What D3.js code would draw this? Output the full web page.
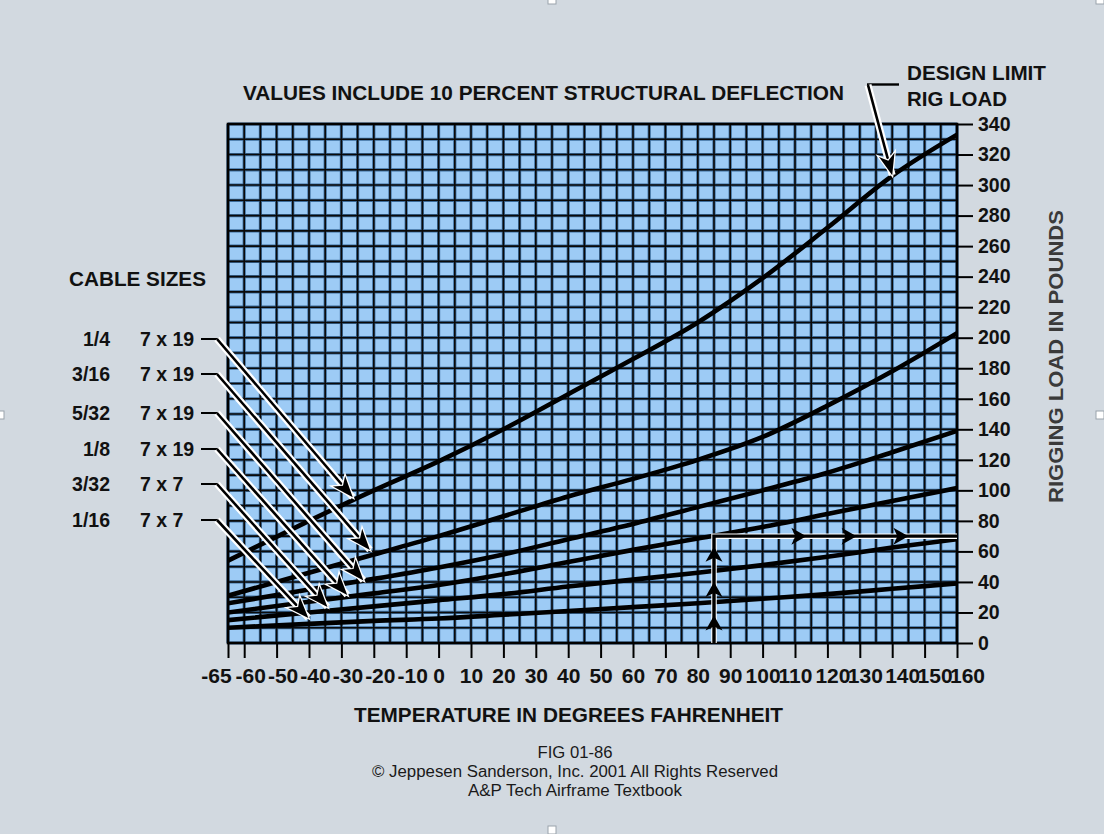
<!DOCTYPE html>
<html>
<head>
<meta charset="utf-8">
<script src="https://cdn.jsdelivr.net/npm/d3@7"></script>
<style>
	body { margin: 0; background: #d2d9e0; }
	svg { display: block; font-family: "Liberation Sans", Arial, Helvetica, sans-serif; }
</style>
</head>
<body>
<svg id="chart" width="1104" height="834"></svg>
<script>
const temps = [-65, -40, -20, 0, 20, 40, 60, 80, 100, 120, 140, 160];
// rigging load (lbs) for each cable size
const load1_4 = [54, 80, 100, 119, 140, 163, 186, 210, 239, 272, 306, 333];
const load3_16 = [31, 46, 58, 70, 83, 96, 107.5, 120, 135, 155.5, 178, 203];
const load5_32 = [26, 35, 42, 49.5, 58, 68, 78, 89, 100, 111.5, 125, 139];
const load1_8 = [20, 27, 32.5, 38, 45, 53, 61, 68.5, 76, 84.5, 93, 101.5];
const load3_32 = [15, 20, 24, 28, 32, 37, 41.5, 46, 51, 56.5, 62.5, 68];
const load1_16 = [10, 12.5, 14.5, 16, 18.5, 21, 23.5, 26, 29, 32, 35.5, 39];
const seriesLoads = [load1_4, load3_16, load5_32, load1_8, load3_32, load1_16];

const cableSizes = ["1/4", "3/16", "5/32", "1/8", "3/32", "1/16"];
const cableTypes = ["7 x 19", "7 x 19", "7 x 19", "7 x 19", "7 x 7", "7 x 7"];
// where each label arrow lands [temp, load]
const leaderTips = [[-26.5, 95.5], [-21.2, 61], [-23.2, 41], [-28.2, 31.5], [-34.3, 23.6], [-40.2, 16.4]];
const designTip = [140, 306.5];

// worked example: 85 F -> 70 lbs
const exampleTemp = 85;
const exampleLoad = 70;
const upArrowLoads = [18, 40, 63];
const rightArrowTemps = [113.5, 129, 145];

const xTicks = [-65, -60, -50, -40, -30, -20, -10, 0, 10, 20, 30, 40, 50, 60, 70, 80, 90, 100, 110, 120, 130, 140, 150, 160];
const yTicks = [0, 20, 40, 60, 80, 100, 120, 140, 160, 180, 200, 220, 240, 260, 280, 300, 320, 340];

const W = 1104, H = 834;
const plot = { left: 228, right: 957, top: 124, bottom: 643 };
const rowY = [339, 374, 413, 449, 484, 520];

const x = d3.scaleLinear().domain([-65, 160]).range([plot.left, plot.right]);
const y = d3.scaleLinear().domain([0, 340]).range([plot.bottom, plot.top]);

const svg = d3.select("#chart");

function fit(sel, w) {
	return sel.attr("textLength", w).attr("lengthAdjust", "spacingAndGlyphs");
}

function head(len, half, notch) {
	return `M0,0L${-len},${-half}L${-len + notch},0L${-len},${half}Z`;
}

svg.append("rect").attr("width", W).attr("height", H).attr("fill", "#d2d9e0");

// window handles from the screenshot
const handles = [[552, 0], [1100, 0], [0, 415], [1100, 415], [552, 830]];
svg.append("g").selectAll("rect").data(handles).join("rect")
	.attr("x", d => d[0] - 4).attr("y", d => d[1] - 4)
	.attr("width", 8).attr("height", 8)
	.attr("fill", "#fff").attr("stroke", "#9aa3ab").attr("stroke-width", 1);

svg.append("defs").append("clipPath").attr("id", "plot-clip")
	.append("rect")
	.attr("x", plot.left).attr("y", plot.top)
	.attr("width", plot.right - plot.left).attr("height", plot.bottom - plot.top);

svg.append("rect")
	.attr("x", plot.left).attr("y", plot.top)
	.attr("width", plot.right - plot.left).attr("height", plot.bottom - plot.top)
	.attr("fill", "#9dcbf5");

// grid: every 5 deg and every 10 lbs
const gridX = d3.range(-65, 161, 5);
const gridY = d3.range(0, 341, 10);
const grid = svg.append("g");
[["#3d6c9b", 3.2], ["#0a0a0a", 1.6]].forEach(([c, w]) => {
	grid.append("g").selectAll("line").data(gridX).join("line")
		.attr("x1", d => x(d)).attr("x2", d => x(d))
		.attr("y1", plot.top).attr("y2", plot.bottom)
		.attr("stroke", c).attr("stroke-width", w);
	grid.append("g").selectAll("line").data(gridY).join("line")
		.attr("y1", d => y(d)).attr("y2", d => y(d))
		.attr("x1", plot.left).attr("x2", plot.right)
		.attr("stroke", c).attr("stroke-width", w);
});

svg.append("rect")
	.attr("x", plot.left).attr("y", plot.top)
	.attr("width", plot.right - plot.left).attr("height", plot.bottom - plot.top)
	.attr("fill", "none").attr("stroke", "#000").attr("stroke-width", 2.6);

// axes
const yAxis = svg.append("g")
	.attr("transform", `translate(${plot.right},0)`)
	.call(d3.axisRight(y).tickValues(yTicks).tickSize(16).tickPadding(5));
yAxis.select(".domain").remove();
yAxis.selectAll("line").attr("stroke", "#000").attr("stroke-width", 2);
yAxis.selectAll("text")
	.style("font-size", "19.5px").style("font-weight", "bold").attr("fill", "#111");

const xAxis = svg.append("g")
	.attr("transform", `translate(0,${plot.bottom})`)
	.call(d3.axisBottom(x).tickValues(xTicks).tickFormat(d => `${d}`).tickSize(15).tickPadding(10));
xAxis.select(".domain").remove();
xAxis.selectAll("line").attr("stroke", "#000").attr("stroke-width", 2);
xAxis.selectAll("text")
	.style("font-size", "21px").style("font-weight", "bold").attr("fill", "#111")
	.attr("dx", d => d === -65 ? -12 : d < 0 ? 6 : d >= 140 ? 10 : d >= 120 ? 5 : 0);

// curves
const line = d3.line()
	.x(d => x(d[0]))
	.y(d => y(d[1]))
	.curve(d3.curveMonotoneX);

svg.append("g").attr("clip-path", "url(#plot-clip)")
	.selectAll("path").data(seriesLoads).join("path")
	.attr("d", loads => line(temps.map((t, i) => [t, loads[i]])))
	.attr("fill", "none").attr("stroke", "#000").attr("stroke-width", 4.6);

// example path
const examplePts = [[exampleTemp, 0], [exampleTemp, exampleLoad], [160, exampleLoad]];
const exLine = d3.line().x(d => x(d[0])).y(d => y(d[1]));
const ex = svg.append("g").attr("clip-path", "url(#plot-clip)");
ex.append("path").attr("d", exLine(examplePts))
	.attr("fill", "none").attr("stroke", "#fff").attr("stroke-width", 5.5);
ex.append("path").attr("d", exLine(examplePts))
	.attr("fill", "none").attr("stroke", "#000").attr("stroke-width", 3.4);
ex.selectAll(".up").data(upArrowLoads).join("path")
	.attr("class", "up")
	.attr("transform", d => `translate(${x(exampleTemp)},${y(d)}) rotate(-90)`)
	.attr("d", head(15, 8.5, 4)).attr("fill", "#000");
ex.selectAll(".right").data(rightArrowTemps).join("path")
	.attr("class", "right")
	.attr("transform", d => `translate(${x(d)},${y(exampleLoad)})`)
	.attr("d", head(15, 8.5, 4)).attr("fill", "#000");

// cable size labels and leader arrows
const labelFont = "19.5px";
svg.append("g").selectAll("text").data(cableSizes).join("text")
	.attr("x", 110).attr("y", (d, i) => rowY[i] + 7)
	.attr("text-anchor", "end")
	.style("font-size", labelFont).style("font-weight", "bold").attr("fill", "#111")
	.text(d => d);
svg.append("g").selectAll("text").data(cableTypes).join("text")
	.attr("x", 140).attr("y", (d, i) => rowY[i] + 7)
	.style("font-size", labelFont).style("font-weight", "bold").attr("fill", "#111")
	.text(d => d);

const leaders = svg.append("g");
leaders.selectAll(".stub").data(rowY).join("line")
	.attr("class", "stub")
	.attr("x1", 201).attr("x2", 218).attr("y1", d => d).attr("y2", d => d)
	.attr("stroke", "#000").attr("stroke-width", 2);

function drawLeader(g, x0, y0, tip) {
	const tx = x(tip[0]), ty = y(tip[1]);
	const ang = Math.atan2(ty - y0, tx - x0) * 180 / Math.PI;
	g.append("line").attr("x1", x0).attr("y1", y0).attr("x2", tx).attr("y2", ty)
		.attr("stroke", "#fff").attr("stroke-width", 7);
	g.append("line").attr("x1", x0).attr("y1", y0).attr("x2", tx).attr("y2", ty)
		.attr("stroke", "#000").attr("stroke-width", 2.6);
	g.append("path")
		.attr("transform", `translate(${tx},${ty}) rotate(${ang})`)
		.attr("d", head(21, 8, 6))
		.attr("fill", "#000").attr("stroke", "#fff").attr("stroke-width", 2.5)
		.attr("stroke-linejoin", "miter").attr("paint-order", "stroke");
}

leaderTips.forEach((tip, i) => drawLeader(leaders.append("g"), 217, rowY[i], tip));

// design limit leader
const dl = svg.append("g");
dl.append("line").attr("x1", 899).attr("x2", 867).attr("y1", 84.5).attr("y2", 84.5)
	.attr("stroke", "#000").attr("stroke-width", 2.4);
drawLeader(dl, 868, 85, designTip);

// titles
svg.append("text").call(fit, 601)
	.attr("x", 243).attr("y", 100)
	.style("font-size", "21px").style("font-weight", "bold").attr("fill", "#111")
	.text("VALUES INCLUDE 10 PERCENT STRUCTURAL DEFLECTION");
svg.append("text").call(fit, 139)
	.attr("x", 907).attr("y", 80)
	.style("font-size", "21px").style("font-weight", "bold").attr("fill", "#111")
	.text("DESIGN LIMIT");
svg.append("text").call(fit, 100)
	.attr("x", 907).attr("y", 106)
	.style("font-size", "21px").style("font-weight", "bold").attr("fill", "#111")
	.text("RIG LOAD");
svg.append("text").call(fit, 137)
	.attr("x", 69).attr("y", 286)
	.style("font-size", "21px").style("font-weight", "bold").attr("fill", "#111")
	.text("CABLE SIZES");
svg.append("text").call(fit, 429)
	.attr("x", 354).attr("y", 722)
	.style("font-size", "21px").style("font-weight", "bold").attr("fill", "#111")
	.text("TEMPERATURE IN DEGREES FAHRENHEIT");
svg.append("text").call(fit, 293)
	.attr("transform", "translate(1063,356.5) rotate(-90)")
	.attr("text-anchor", "middle")
	.style("font-size", "21px").style("font-weight", "bold").attr("fill", "#3a3a3a")
	.text("RIGGING LOAD IN POUNDS");

// footer
const footer = [["FIG 01-86", 758, 75], ["© Jeppesen Sanderson, Inc. 2001 All Rights Reserved", 777, 406], ["A&P Tech Airframe Textbook", 796, 214]];
svg.append("g").selectAll("text").data(footer).join("text")
	.attr("x", 575).attr("y", d => d[1])
	.attr("text-anchor", "middle")
	.attr("textLength", d => d[2]).attr("lengthAdjust", "spacingAndGlyphs")
	.style("font-size", "16px").attr("fill", "#1a1a1a")
	.text(d => d[0]);
</script>
</body>
</html>
